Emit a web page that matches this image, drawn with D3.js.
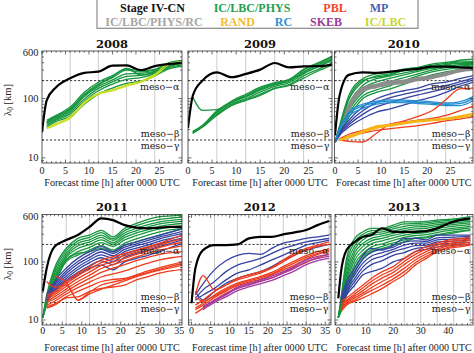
<!DOCTYPE html>
<html>
<head>
<meta charset="utf-8">
<script src="https://cdn.jsdelivr.net/npm/d3@7"></script>
<style>
body { margin: 0; background: #fff; }
svg { display: block; font-family: "Liberation Serif", "Times New Roman", serif; }
</style>
</head>
<body>
<svg id="chart" width="474" height="353"></svg>
<script>
// legend entries (two rows)
const legendRow1 = ["Stage IV-CN", "IC/LBC/PHYS", "PBL", "MP"];
const legendRow2 = ["IC/LBC/PHYS/RC", "RAND", "RC", "SKEB", "IC/LBC"];

const years = ["2008", "2009", "2010", "2011", "2012", "2013"];

const hoursShort = [0, 1, 3, 6, 9, 12, 15, 18, 21, 24, 27, 30];
const hoursLong = [0, 1, 3, 6, 9, 12, 15, 18, 21, 24, 27, 30, 33, 36];
const hours2013 = [0, 1, 3, 6, 9, 12, 16, 20, 24, 28, 32, 36, 40, 44, 48];

const yTickLabels = [600, 100, 10];
const mesoLines = [200, 20];

// ---- 2008 ----
const obs2008 = [27, 93, 155, 219, 270, 283, 357, 360, 300, 350, 380, 400];
const phys2008 = [
  [null, 43, 52, 72, 127, 188, 243, 315, 295, 310, 400, 440],
  [null, 41, 50, 68, 118, 175, 225, 300, 280, 300, 380, 420],
  [null, 39, 47, 63, 108, 160, 205, 260, 265, 285, 360, 400],
  [null, 37, 45, 59, 98, 148, 190, 235, 245, 270, 345, 390],
  [null, 35, 43, 55, 90, 135, 175, 210, 225, 260, 330, 370],
  [null, 33, 41, 50, 80, 118, 150, 180, 195, 240, 315, 350],
  [null, 40, 49, 66, 112, 170, 235, 320, 250, 280, 370, 410]
];
const icLbc2008 = [
  [null, 31, 36, 46, 82, 118, 134, 162, 186, 240, 370, 420],
  [null, 32, 38, 49, 87, 122, 140, 170, 195, 255, 385, 400]
];

// ---- 2009 ----
const obs2009 = [32, 112, 200, 276, 228, 259, 306, 396, 335, 348, 350, 370];
const phys2009 = [
  [null, 27, 35, 62, 88, 112, 148, 180, 205, 300, 390, 500],
  [null, 26, 34, 58, 84, 106, 138, 170, 195, 280, 370, 470],
  [null, 27, 33, 55, 80, 100, 128, 160, 185, 260, 340, 440],
  [null, 26, 34, 53, 77, 95, 118, 150, 172, 240, 310, 400],
  [null, 28, 35, 60, 90, 118, 155, 185, 210, 310, 400, 520],
  [null, 26, 33, 52, 76, 93, 113, 146, 166, 220, 290, 370],
  [null, 106, 63, 65, 86, 110, 142, 175, 200, 270, 350, 450]
];

// ---- 2010 ----
const obs2010 = [24, 112, 250, 276, 270, 283, 300, 315, 343, 345, 335, 327];
const phys2010 = [
  [18.5, 35, 112, 214, 259, 276, 315, 335, 380, 405, 430, 420],
  [18.5, 32, 95, 190, 240, 260, 295, 320, 360, 390, 410, 400],
  [18.5, 30, 80, 165, 215, 240, 270, 300, 340, 370, 390, 390],
  [18.5, 28, 70, 145, 190, 220, 250, 285, 320, 350, 370, 380],
  [18.5, 27, 62, 125, 165, 195, 225, 260, 300, 330, 350, 370],
  [18.5, 26, 55, 110, 140, 165, 200, 240, 280, 310, 330, 350],
  [18.5, 25, 48, 99, 127, 145, 175, 210, 250, 280, 310, 330],
  [18.5, 33, 100, 200, 230, 250, 300, 330, 320, 360, 440, 460]
];
const physRc2010 = [
  [18.5, 26, 72, 145, 165, 188, 190, 214, 228, 259, 295, 315],
  [18.5, 25, 66, 135, 155, 175, 182, 205, 220, 250, 285, 305],
  [18.5, 27, 76, 152, 172, 195, 200, 222, 238, 268, 300, 325]
];
const mp2010 = [
  [18.5, 27, 43, 72, 99, 120, 135, 150, 176, 188, 215, 243],
  [18.5, 26, 39, 62, 85, 103, 118, 133, 150, 165, 190, 220],
  [18.5, 25, 36, 54, 72, 86, 100, 115, 130, 150, 175, 205],
  [18.5, 24, 33, 46, 59, 67, 78, 92, 105, 127, 160, 188]
];
const rc2010 = [
  [18.5, 30, 55, 75, 85, 90, 90, 86, 84, 80, 82, 100],
  [18.5, 29, 50, 68, 80, 85, 85, 82, 80, 76, 76, 92],
  [18.5, 31, 58, 80, 90, 95, 94, 91, 88, 84, 88, 108]
];
const pbl2010 = [
  [null, 21, 25, 29, 33, 37, 42, 50, 62, 95, 145, 150],
  [null, 20, 19, 18.5, 26, 37, 40, 43, 46, 52, 62, 75],
  [null, 21, 23, 26, 29, 31, 33, 35, 38, 42, 45, 49]
];
const rand2010 = [
  [null, 20, 23, 28, 34, 36, 39, 42, 44, 46, 50, 55],
  [null, 20, 22, 27, 32, 35, 38, 41, 43, 45, 48, 53]
];

// ---- 2011 ----
const obs2011 = [31, 78, 183, 238, 290, 400, 563, 525, 430, 390, 378, 390, 400, 400];
const phys2011 = [
  [11, 27, 78, 171, 254, 290, 350, 270, 378, 460, 540, 600, 620, 640],
  [11, 25, 70, 155, 230, 265, 320, 250, 345, 420, 490, 540, 570, 590],
  [11, 23, 62, 140, 210, 240, 290, 235, 315, 380, 440, 490, 520, 540],
  [11, 22, 56, 128, 190, 220, 265, 215, 290, 345, 400, 450, 480, 500],
  [11, 21, 50, 118, 170, 198, 240, 200, 265, 315, 360, 410, 440, 460],
  [11, 20, 46, 108, 150, 178, 215, 185, 240, 285, 330, 370, 400, 420],
  [11, 19, 42, 101, 131, 160, 190, 160, 210, 250, 290, 330, 360, 380],
  [11, 18, 40, 105, 140, 150, 171, 150, 195, 222, 254, 290, 330, 378]
];
const mp2011 = [
  [null, 27, 46, 78, 115, 150, 183, 150, 195, 222, 254, 290, 330, 378],
  [null, 26, 42, 70, 102, 135, 165, 140, 180, 205, 235, 270, 300, 340],
  [null, 25, 39, 63, 92, 120, 148, 128, 165, 190, 215, 250, 280, 310],
  [null, 24, 36, 57, 82, 108, 132, 115, 150, 172, 196, 228, 255, 285],
  [null, 23, 34, 52, 74, 97, 118, 102, 135, 156, 178, 205, 232, 260],
  [null, 22, 32, 48, 66, 86, 104, 90, 120, 140, 160, 185, 210, 240],
  [null, 21, 31, 46, 60, 78, 88, 73, 100, 115, 130, 150, 180, 210]
];
const pbl2011 = [
  [null, 27, 31, 46, 64, 83, 108, 123, 140, 160, 183, 210, 250, 290],
  [null, 25, 29, 42, 58, 75, 97, 112, 128, 148, 170, 195, 225, 250],
  [null, 23, 27, 38, 52, 67, 87, 100, 115, 135, 155, 178, 200, 220],
  [null, 21, 25, 34, 46, 59, 77, 90, 104, 122, 140, 160, 175, 190],
  [null, 20, 23, 31, 41, 52, 66, 78, 90, 105, 120, 135, 145, 150],
  [null, 18, 21, 28, 36, 45, 55, 62, 70, 82, 95, 108, 118, 125],
  [null, 17, 19, 25, 31, 38, 46, 50, 52, 60, 70, 80, 90, 100],
  [null, 16, 18, 24, 25, 31, 35, 37, 40, 49, 56, 64, 70, 75],
  [null, 46, 37, 40, 22, 30, 40, 45, 50, 58, 66, 75, 85, 95],
  [null, null, 57, 45, 22, 28, 34, 40, 47, 56, 64, 72, 80, 88]
];

// ---- 2012 ----
const obs2012 = [19.4, 78, 160, 195, 195, 200, 254, 270, 270, 298, 322, 355, 430, 505];
const mp2012 = [
  [null, 27, 42, 73, 105, 130, 140, 135, 171, 210, 230, 254, 270, 290],
  [null, 23.6, 33, 46, 68, 88, 101, 115, 140, 171, 195, 222, 238, 254],
  [null, 22, 27, 35, 49, 64, 73, 88, 108, 131, 160, 195, 215, 238],
  [null, 31, 22, 31, 43, 52, 60, 68, 83, 108, 131, 160, 180, 200]
];
const pbl2012 = [
  [null, 27, 58, 33, 40, 52, 60, 68, 80, 108, 140, 171, 195, 222],
  [null, 18, 22, 31, 40, 49, 56, 64, 78, 101, 131, 160, 185, 200],
  [null, 16, 19.4, 27, 35, 43, 49, 56, 66, 83, 104, 128, 150, 170],
  [null, 15, 18, 24.5, 31.5, 39, 45, 50, 60, 73, 88, 112, 135, 150],
  [null, 13, 16, 22, 29, 35, 41, 47, 53, 66, 80, 98, 118, 135],
  [null, 25, 21, 26, 33, 41, 47, 53, 62, 78, 96, 120, 140, 160]
];
const skeb2012 = [
  [null, null, 16, 21, 27, 35, 40, 46, 53, 64, 78, 101, 115, 125],
  [null, null, 15, 20, 25, 32, 37, 42, 48, 58, 70, 90, 105, 115],
  [null, null, 17, 22, 28, 37, 43, 49, 57, 68, 84, 108, 125, 135]
];

// ---- 2013 ----
const obs2013 = [23.6, 68, 160, 222, 270, 290, 380, 330, 330, 330, 340, 378, 460, 525, 563];
const phys2013 = [
  [11, 24, 115, 254, 330, 378, 378, 430, 490, 490, 500, 525, 540, 563, 600],
  [11, 22, 95, 220, 300, 345, 355, 400, 450, 460, 470, 500, 520, 540, 560],
  [11, 20, 80, 190, 270, 315, 330, 370, 410, 430, 440, 470, 490, 510, 530],
  [11, 19, 68, 165, 240, 285, 305, 340, 375, 400, 410, 440, 460, 480, 500],
  [11, 18, 58, 145, 210, 255, 280, 310, 345, 370, 380, 410, 430, 450, 470],
  [11, 17, 50, 125, 185, 230, 255, 285, 315, 340, 350, 380, 400, 420, 440],
  [11, 16, 43, 108, 160, 205, 230, 260, 290, 310, 320, 350, 370, 390, 410],
  [11, 15, 37, 92, 140, 180, 205, 235, 265, 285, 295, 320, 345, 365, 385],
  [11, 14.5, 32, 80, 125, 160, 185, 212, 240, 260, 270, 295, 320, 340, 360],
  [11, 14, 27, 68, 115, 150, 171, 195, 222, 254, 260, 290, 300, 330, 350]
];
const mp2013 = [
  [null, 24, 46, 78, 131, 171, 160, 195, 254, 254, 240, 290, 290, 290, 290],
  [null, 22, 40, 68, 112, 145, 165, 180, 220, 230, 225, 260, 265, 270, 275],
  [null, 21, 36, 60, 96, 125, 145, 165, 195, 210, 210, 240, 245, 250, 255],
  [null, 20, 32, 52, 82, 108, 125, 150, 170, 190, 195, 220, 225, 230, 235],
  [null, 19, 29, 46, 70, 90, 105, 130, 145, 170, 180, 200, 208, 212, 215],
  [null, 18, 27, 40, 60, 68, 78, 100, 115, 150, 165, 180, 190, 195, 200]
];
const pbl2013 = [
  [null, 21, 24, 31, 40, 52, 68, 83, 115, 150, 183, 210, 238, 250, 270],
  [null, 19, 22, 28, 36, 46, 60, 74, 102, 135, 165, 195, 222, 235, 250],
  [null, 18, 21, 26, 32, 41, 53, 66, 90, 120, 150, 180, 205, 220, 235],
  [null, 16, 20, 24, 29, 36, 46, 58, 78, 108, 137, 165, 190, 205, 220],
  [null, 15, 19, 22, 27, 32, 40, 51, 68, 97, 125, 155, 178, 192, 205],
  [null, 14, 18, 21, 24, 28, 35, 46, 60, 88, 115, 150, 171, 182, 195]
];

// colours for the lines and the legend text
const lineColor = {
  "Stage IV-CN": "#000000", "IC/LBC/PHYS": "#16963e", "PBL": "#ee3b1c", "MP": "#3443a2",
  "IC/LBC/PHYS/RC": "#8c8c8c", "RAND": "#f6b416", "RC": "#218bd0", "SKEB": "#a23aa2", "IC/LBC": "#c9dd22"
};
const textColor = {
  "Stage IV-CN": "#111", "IC/LBC/PHYS": "#23a04e", "PBL": "#f0462a", "MP": "#4562b6",
  "IC/LBC/PHYS/RC": "#a6a6a6", "RAND": "#f2bb35", "RC": "#2f90d0", "SKEB": "#9b3a9b", "IC/LBC": "#c5d635"
};
const lineWidth = { "Stage IV-CN": 2.2, "IC/LBC/PHYS/RC": 2.2, "RAND": 2.2 };

// series per panel, drawn in this order (observations last)
const panelSeries = [
  { hours: hoursShort, obs: obs2008, ens: [["IC/LBC/PHYS", phys2008], ["IC/LBC", icLbc2008]] },
  { hours: hoursShort, obs: obs2009, ens: [["IC/LBC/PHYS", phys2009]] },
  { hours: hoursShort, obs: obs2010, ens: [["IC/LBC/PHYS", phys2010], ["IC/LBC/PHYS/RC", physRc2010], ["MP", mp2010],
      ["RC", rc2010], ["PBL", pbl2010], ["RAND", rand2010]] },
  { hours: hoursLong, obs: obs2011, ens: [["IC/LBC/PHYS", phys2011], ["MP", mp2011], ["PBL", pbl2011]] },
  { hours: hoursLong, obs: obs2012, ens: [["MP", mp2012], ["PBL", pbl2012], ["SKEB", skeb2012]] },
  { hours: hours2013, obs: obs2013, ens: [["IC/LBC/PHYS", phys2013], ["MP", mp2013], ["PBL", pbl2013]] }
];

// panel frames in pixels (tick label / axis label baselines below the frame)
const frames = [
  { x0: 42, x1: 182, y0: 51, y1: 163, t0: 0, t1: 29.8, step: 5, tickB: 174, labB: 185.5 },
  { x0: 188, x1: 332, y0: 51, y1: 163, t0: 0, t1: 29.9, step: 5, tickB: 174, labB: 185.5 },
  { x0: 334.5, x1: 473, y0: 51, y1: 163, t0: -0.1, t1: 29.9, step: 5, tickB: 174, labB: 185.5 },
  { x0: 42, x1: 182, y0: 214.5, y1: 325, t0: -0.2, t1: 35.7, step: 5, tickB: 334, labB: 351 },
  { x0: 188.5, x1: 331, y0: 214.5, y1: 325, t0: -0.8, t1: 36.5, step: 5, tickB: 334, labB: 351 },
  { x0: 335, x1: 473, y0: 214.5, y1: 325, t0: -1.2, t1: 49, step: 10, tickB: 334, labB: 351 }
];

const svg = d3.select("#chart");

// ---------- legend ----------
const legendX1 = [152.5, 252, 335, 379];
const legendX2 = [154, 237.5, 283.5, 326, 385.5];
svg.append("rect")
  .attr("x", 97).attr("y", -1).attr("width", 321).attr("height", 29.3)
  .attr("fill", "none").attr("stroke", "#8a8a8a").attr("stroke-width", 1.2);
[[legendRow1, legendX1, 11.5], [legendRow2, legendX2, 26]].forEach(([names, xs, yb]) => {
  svg.append("g").selectAll("text").data(names).enter().append("text")
    .attr("x", (d, i) => xs[i]).attr("y", yb)
    .attr("text-anchor", "middle")
    .attr("font-size", "12px").attr("font-weight", "bold")
    .attr("fill", d => textColor[d])
    .text(d => d);
});

// ---------- panels ----------
frames.forEach((f, p) => {
  const x = d3.scaleLinear().domain([f.t0, f.t1]).range([f.x0, f.x1]);
  const y = d3.scaleLog().domain([8.2, p < 3 ? 630 : 655]).range([f.y1, f.y0]);
  const g = svg.append("g");

  // vertical grid every 6 h
  g.selectAll(".grid").data(d3.range(6, f.t1, 6)).enter().append("line")
    .attr("x1", d => x(d)).attr("x2", d => x(d))
    .attr("y1", f.y0).attr("y2", f.y1)
    .attr("stroke", "#cccccc").attr("stroke-width", 1);

  // mesoscale boundaries
  g.selectAll(".meso").data(mesoLines).enter().append("line")
    .attr("x1", f.x0).attr("x2", f.x1)
    .attr("y1", d => y(d)).attr("y2", d => y(d))
    .attr("stroke", "#222").attr("stroke-width", 0.9).attr("stroke-dasharray", "2.2,1.8");

  const clipId = "clip" + p;
  svg.append("clipPath").attr("id", clipId).append("rect")
    .attr("x", f.x0).attr("y", f.y0).attr("width", f.x1 - f.x0).attr("height", f.y1 - f.y0);

  const s = panelSeries[p];
  const line = d3.line()
    .defined(d => d[1] != null)
    .x(d => x(d[0])).y(d => y(d[1]))
    .curve(d3.curveMonotoneX);
  const lines = g.append("g").attr("clip-path", `url(#${clipId})`);

  s.ens.forEach(([name, runs]) => {
    lines.selectAll(null).data(runs).enter().append("path")
      .attr("d", r => line(s.hours.map((h, i) => [h, r[i]])))
      .attr("fill", "none")
      .attr("stroke", lineColor[name])
      .attr("stroke-width", lineWidth[name] || 1.3)
      .attr("stroke-linejoin", "round");
  });
  lines.append("path")
    .attr("d", line(s.hours.map((h, i) => [h, s.obs[i]])))
    .attr("fill", "none").attr("stroke", lineColor["Stage IV-CN"])
    .attr("stroke-width", lineWidth["Stage IV-CN"]).attr("stroke-linejoin", "round");

  // meso labels
  const lab = [["meso\u2212\u03b1", y(200) + 9.5], ["meso\u2212\u03b2", y(20) - 2.5], ["meso\u2212\u03b3", y(20) + 9.2]];
  g.selectAll(".lab").data(lab).enter().append("text")
    .attr("x", f.x1 - 2.5).attr("y", d => d[1])
    .attr("text-anchor", "end").attr("font-family", "DejaVu Serif")
    .attr("font-size", "9.5px").attr("fill", "#222")
    .text(d => d[0]);

  // frame
  g.append("rect")
    .attr("x", f.x0).attr("y", f.y0).attr("width", f.x1 - f.x0).attr("height", f.y1 - f.y0)
    .attr("fill", "none").attr("stroke", "#333").attr("stroke-width", 0.8);

  // x ticks (major labelled, minor every hour / two hours)
  const major = d3.range(0, f.t1, f.step);
  const minor = d3.range(Math.ceil(f.t0), f.t1, f.step === 10 ? 2 : 1);
  [f.y0, f.y1].forEach((yy, k) => {
    const dir = k === 0 ? 1 : -1;
    g.selectAll(null).data(minor).enter().append("line")
      .attr("x1", d => x(d)).attr("x2", d => x(d))
      .attr("y1", yy).attr("y2", d => yy + dir * (major.includes(d) ? 3.5 : 1.8))
      .attr("stroke", "#333").attr("stroke-width", 0.7);
  });
  g.selectAll(".xt").data(major).enter().append("text")
    .attr("x", d => x(d)).attr("y", f.tickB)
    .attr("text-anchor", "middle").attr("font-size", "10px").attr("fill", "#222")
    .text(d => d);

  // y ticks (log) on both sides
  const yt = [9, 10, 20, 30, 40, 50, 60, 70, 80, 90, 100, 200, 300, 400, 500, 600];
  [f.x0, f.x1].forEach((xx, k) => {
    const dir = k === 0 ? 1 : -1;
    g.selectAll(null).data(yt).enter().append("line")
      .attr("x1", xx).attr("x2", d => xx + dir * ((d === 10 || d === 100) ? 3.5 : 2))
      .attr("y1", d => y(d)).attr("y2", d => y(d))
      .attr("stroke", "#333").attr("stroke-width", 0.7);
  });
  if (p === 0 || p === 3) {
    g.selectAll(".yt").data(yTickLabels).enter().append("text")
      .attr("x", f.x0 - 3.5).attr("y", d => y(d) + 3.5)
      .attr("text-anchor", "end").attr("font-size", "10.5px").attr("fill", "#222")
      .text(d => d);
    const yl = g.append("text")
      .attr("transform", `translate(11,${p === 0 ? 100 : 264}) rotate(-90)`)
      .attr("text-anchor", "middle").attr("font-size", "10.5px").attr("fill", "#222");
    yl.append("tspan").text("\u03bb");
    yl.append("tspan").attr("font-size", "7.5px").attr("dy", 2).text("0");
    yl.append("tspan").attr("dy", -2).text(" [km]");
  }

  // title and x label
  g.append("text")
    .attr("x", (f.x0 + f.x1) / 2).attr("y", f.y0 - 3.5)
    .attr("text-anchor", "middle").attr("font-family", "DejaVu Serif")
    .attr("font-weight", "bold").attr("font-size", "11.5px").attr("fill", "#111")
    .text(years[p]);
  g.append("text")
    .attr("x", (f.x0 + f.x1) / 2).attr("y", f.labB)
    .attr("text-anchor", "middle").attr("font-size", "10.1px").attr("fill", "#222")
    .text("Forecast time [h] after 0000 UTC");
});
</script>
</body>
</html>
